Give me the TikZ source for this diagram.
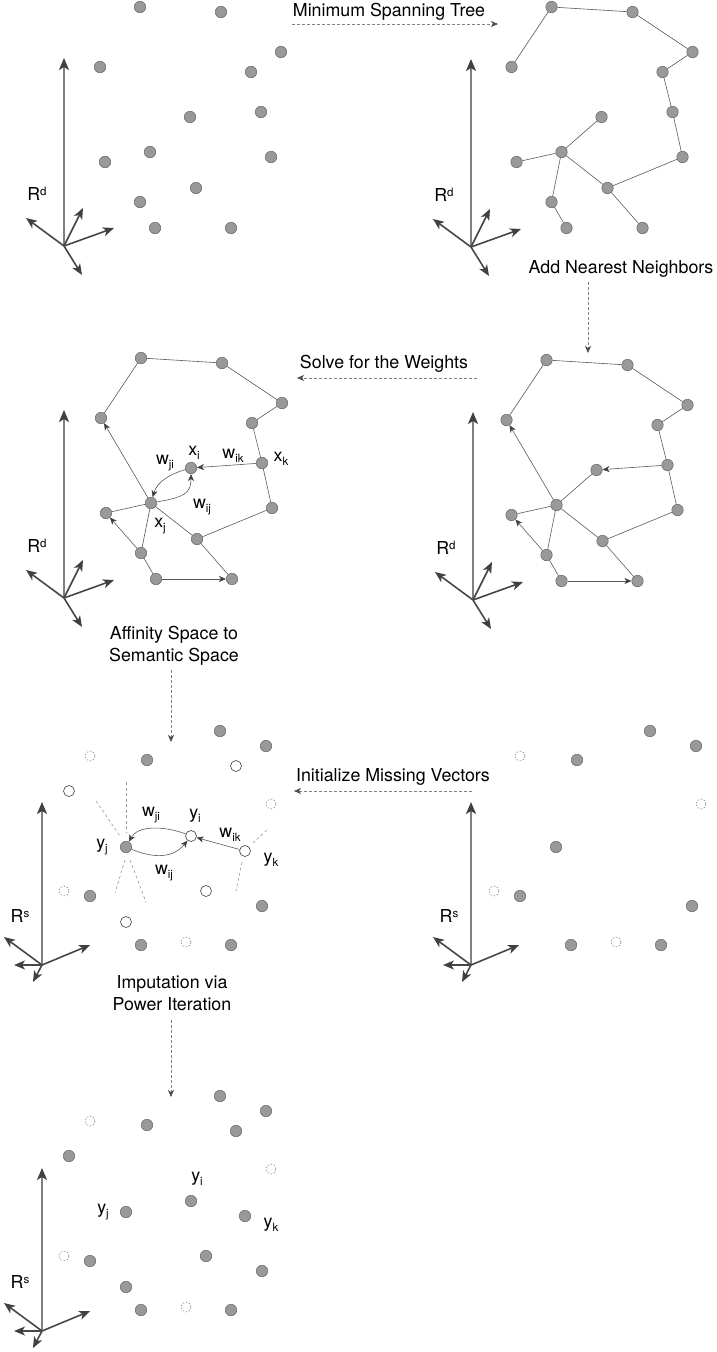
\documentclass[tikz,border=0pt]{standalone}
\usepackage{fontspec}
\setmainfont{TeX Gyre Heros}
\usetikzlibrary{arrows.meta}
\newcommand\sps[1]{\raisebox{0.5ex}{\fontsize{11.5}{12}\selectfont #1}}
\newcommand\sbs[1]{\raisebox{-0.45ex}{\fontsize{11.5}{12}\selectfont #1}}
\tikzset{
  pt/.style={circle,draw=black!60,fill=black!40,inner sep=0pt,minimum size=11.5pt,line width=0.5pt},
  wpt/.style={circle,draw=black!75,fill=white,inner sep=0pt,minimum size=11pt,line width=0.6pt},
  dpt/.style={circle,draw=black!45,dash pattern=on 1.6pt off 1.6pt,inner sep=0pt,minimum size=10pt,line width=0.6pt},
  link/.style={draw=black!65,line width=0.6pt},
  arr/.style={link,-{Stealth[length=7pt,width=6pt,inset=2pt,color=black!75]}},
  axmain/.style={draw=black!50,line width=1.6pt,-{Stealth[length=12pt,width=10pt,inset=3pt,color=black!75]}},
  axsub/.style={draw=black!72,line width=1.6pt,-{Stealth[length=11pt,width=9pt,inset=3pt,color=black!75]}},
  proc/.style={draw=black!50,line width=0.7pt,dash pattern=on 3pt off 2pt,-{Stealth[length=7pt,width=6pt,inset=2pt,color=black!70]}},
  ray/.style={draw=black!40,line width=0.6pt,dash pattern=on 3pt off 2.5pt},
  lbl/.style={font=\fontsize{17.8}{21.5}\selectfont,inner sep=0pt,align=center},
}
\newcommand\mstnodes[1]{%
 \node[pt] (#1a) at (140,7) {};
 \node[pt] (#1b) at (221,12) {};
 \node[pt] (#1c) at (281,52) {};
 \node[pt] (#1d) at (100,67) {};
 \node[pt] (#1e) at (251,72) {};
 \node[pt] (#1f) at (190,117) {};
 \node[pt] (#1g) at (261,112) {};
 \node[pt] (#1h) at (150,152) {};
 \node[pt] (#1i) at (105,162) {};
 \node[pt] (#1k) at (271,157) {};
 \node[pt] (#1l) at (196,188) {};
 \node[pt] (#1m) at (140,202) {};
 \node[pt] (#1n) at (155,228) {};
 \node[pt] (#1o) at (231,228) {};}
\newcommand\mstbase[1]{%
 \draw[link] (#1a) -- (#1b);
 \draw[link] (#1a) -- (#1d);
 \draw[link] (#1b) -- (#1c);
 \draw[link] (#1c) -- (#1e);
 \draw[link] (#1e) -- (#1g);
 \draw[link] (#1g) -- (#1k);
 \draw[link] (#1k) -- (#1l);
 \draw[link] (#1l) -- (#1o);
 \draw[link] (#1l) -- (#1h);
 \draw[link] (#1h) -- (#1i);
 \draw[link] (#1h) -- (#1m);
 \draw[link] (#1m) -- (#1n);}
\newcommand\nnarrows[1]{%
 \draw[arr] (#1g) -- (#1f);
 \draw[arr] (#1h) -- (#1d);
 \draw[arr] (#1m) -- (#1i);
 \draw[arr] (#1n) -- (#1o);}
\newcommand\axesd[3]{%
 \begin{scope}[shift={(#2,#3)}]
  \coordinate (#1o) at (0,0);
  \coordinate (#1v) at (0,-188);
  \coordinate (#1ul) at (-38,-28);
  \coordinate (#1ur) at (19,-38);
  \coordinate (#1r) at (50,-18);
  \coordinate (#1dn) at (18,29);
  \draw[axmain] (#1o) -- (#1v);
  \draw[axsub] (#1o) -- (#1ul);
  \draw[axsub] (#1o) -- (#1ur);
  \draw[axsub] (#1o) -- (#1r);
  \draw[axsub] (#1o) -- (#1dn);
  \node[lbl] (#1lab) at (-27,-52) {R\sps{d}};
 \end{scope}}
\newcommand\axess[3]{%
 \begin{scope}[shift={(#2,#3)}]
  \coordinate (#1o) at (0,0);
  \coordinate (#1v) at (0,-163);
  \coordinate (#1ul) at (-38,-28);
  \coordinate (#1r) at (48,-20);
  \coordinate (#1lf) at (-28,0);
  \coordinate (#1dl) at (-9,17);
  \draw[axmain] (#1o) -- (#1v);
  \draw[axsub] (#1o) -- (#1ul);
  \draw[axsub] (#1o) -- (#1r);
  \draw[axsub] (#1o) -- (#1lf);
  \draw[axsub] (#1o) -- (#1dl);
  \node[lbl] (#1lab) at (-22,-49) {R\sps{s}};
 \end{scope}}
\newcommand\semnodes[2]{%
 \node[pt] (#1a) at (220,731) {};
 \node[pt] (#1b) at (266,746) {};
 \node[dpt] (#1c) at (90,756) {};
 \node[pt] (#1d) at (147,760) {};
 \node[#2] (#1e) at (236,766) {};
 \node[#2] (#1f) at (69,791) {};
 \node[dpt] (#1g) at (271,804) {};
 \node[#2] (#1yi) at (191,836) {};
 \node[pt] (#1yj) at (126,847) {};
 \node[#2] (#1yk) at (245,851) {};
 \node[dpt] (#1h) at (64,891) {};
 \node[pt] (#1i) at (90,896) {};
 \node[#2] (#1k) at (206,891) {};
 \node[pt] (#1l) at (262,906) {};
 \node[#2] (#1m) at (126,922) {};
 \node[pt] (#1n) at (141,945) {};
 \node[dpt] (#1o) at (186,942) {};
 \node[pt] (#1p) at (231,945) {};}
\begin{document}
\begin{tikzpicture}[x=1pt,y=-1pt]
\useasboundingbox (0,0) rectangle (717,1352);
% ---------- row 1 ----------
\axesd{A}{64}{246}
\begin{scope}[shift={(0,0)}]
 \mstnodes{P}
\end{scope}
\axesd{B}{471}{247}
\begin{scope}[shift={(411.5,0)}]
 \mstnodes{Q}
 \mstbase{Q}
 \draw[link] (Qh) -- (Qf);
\end{scope}
% ---------- row 2 ----------
\axesd{C}{64}{598}
\begin{scope}[shift={(1,351)}]
 \mstnodes{U}
 \mstbase{U}
 \nnarrows{U}
 \draw[arr] (Uh) .. controls (184,146) and (190,142) .. (Uf);
 \draw[arr] (Uf) .. controls (169,123) and (156,131) .. (Uh);
\end{scope}
\node[lbl] (lxi) at (194,453) {x\sbs{i}};
\node[lbl] (lxk) at (281,459) {x\sbs{k}};
\node[lbl] (lwik) at (233,456) {w\sbs{ik}};
\node[lbl] (lwji) at (165,463) {w\sbs{ji}};
\node[lbl] (lwij) at (202,507) {w\sbs{ij}};
\node[lbl] (lxj) at (160,526) {x\sbs{j}};
\axesd{D}{473}{600}
\begin{scope}[shift={(406.5,353)}]
 \mstnodes{V}
 \mstbase{V}
 \draw[link] (Vh) -- (Vf);
 \nnarrows{V}
\end{scope}
% ---------- row 3 ----------
\axess{E}{42}{965}
\draw[ray] (126,782) -- (126,833);
\draw[ray] (96,801) -- (120,836);
\draw[ray] (125,860) -- (115,893);
\draw[ray] (130,860) -- (146,902);
\draw[ray] (267,830) -- (253,843);
\draw[ray] (242,862) -- (236,891);
\semnodes{S}{wpt}
\draw[arr] (Syk) -- (Syi);
\draw[arr] (Syj) .. controls (150,857) and (172,860) .. (Syi);
\draw[arr] (Syi) .. controls (165,826) and (138,825) .. (Syj);
\node[lbl] (lwji2) at (151,815) {w\sbs{ji}};
\node[lbl] (lyi2) at (195,816) {y\sbs{i}};
\node[lbl] (lwik2) at (230,835) {w\sbs{ik}};
\node[lbl] (lyj2) at (102,847) {y\sbs{j}};
\node[lbl] (lyk2) at (271,860) {y\sbs{k}};
\node[lbl] (lwij2) at (164,873) {w\sbs{ij}};
\axess{F}{471}{965}
\begin{scope}[shift={(430,0)}]
 \node[pt] (Ta) at (220,731) {};
 \node[pt] (Tb) at (266,746) {};
 \node[dpt] (Tc) at (90,756) {};
 \node[pt] (Td) at (147,760) {};
 \node[dpt] (Tg) at (271,804) {};
 \node[pt] (Tyj) at (126,847) {};
 \node[dpt] (Th) at (64,891) {};
 \node[pt] (Ti) at (90,896) {};
 \node[pt] (Tl) at (262,906) {};
 \node[pt] (Tn) at (141,945) {};
 \node[dpt] (To) at (186,942) {};
 \node[pt] (Tp) at (231,945) {};
\end{scope}
% ---------- row 4 ----------
\axess{G}{42}{1331}
\begin{scope}[shift={(0,365)}]
 \semnodes{W}{pt}
\end{scope}
\node[lbl] (lyi3) at (197,1179) {y\sbs{i}};
\node[lbl] (lyj3) at (103,1212) {y\sbs{j}};
\node[lbl] (lyk3) at (271,1225) {y\sbs{k}};
% ---------- process steps ----------
\node[lbl] (t1) at (389,12) {Minimum Spanning Tree};
\coordinate (t1s) at (292,24); \coordinate (t1e) at (498,24);
\draw[proc] (t1s) -- (t1e);
\node[lbl] (t2) at (621,269) {Add Nearest Neighbors};
\coordinate (t2s) at (588,282); \coordinate (t2e) at (588,353);
\draw[proc] (t2s) -- (t2e);
\node[lbl] (t3) at (384,364) {Solve for the Weights};
\coordinate (t3s) at (477,378); \coordinate (t3e) at (297,378);
\draw[proc] (t3s) -- (t3e);
\node[lbl] (t4) at (174,646) {Affinity Space to\\Semantic Space};
\coordinate (t4s) at (171,670); \coordinate (t4e) at (171,742);
\draw[proc] (t4s) -- (t4e);
\node[lbl] (t5) at (393,777) {Initialize Missing Vectors};
\coordinate (t5s) at (472,791); \coordinate (t5e) at (294,791);
\draw[proc] (t5s) -- (t5e);
\node[lbl] (t6) at (172,993) {Imputation via\\Power Iteration};
\coordinate (t6s) at (171,1020); \coordinate (t6e) at (171,1097);
\draw[proc] (t6s) -- (t6e);
\end{tikzpicture}
\end{document}
